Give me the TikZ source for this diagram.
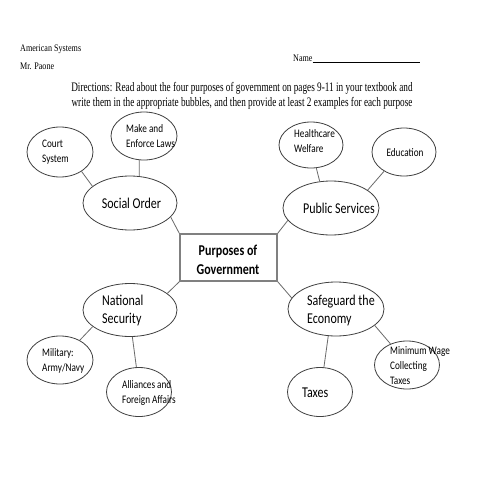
\documentclass[tikz,border=0pt]{standalone}
\usepackage{fontspec}
\setmainfont{Carlito}
\newfontfamily\bubfont[FakeStretch=0.8]{Carlito}
\newfontfamily\hdrA[FakeStretch=0.81]{Liberation Serif}
\newfontfamily\hdrB[FakeStretch=0.71]{Liberation Serif}
\usetikzlibrary{shapes.geometric}
\definecolor{lc}{HTML}{404040}
\definecolor{cc}{HTML}{6A6A6A}
\definecolor{bc}{HTML}{808080}
\begin{document}
\begin{tikzpicture}[x=1pt,y=-1pt,
  bub/.style={draw=lc, line width=0.8pt, ellipse, inner sep=0pt},
  conn/.style={draw=cc, line width=0.8pt},
  small/.style={font=\bubfont\fontsize{11.5}{15}\selectfont, align=left, inner sep=0pt, text=black},
  big/.style={font=\bubfont\fontsize{15}{18}\selectfont, align=left, inner sep=0pt, text=black},
  hdr/.style={font=\hdrA\fontsize{10}{12}\selectfont, inner sep=0pt}]
\useasboundingbox[fill=white] (0,0) rectangle (480,480);

% header
\node[hdr, anchor=base west] (title) at (20,51) {American Systems};
\node[hdr, anchor=base west] (teacher) at (20,69.3) {Mr. Paone};
\node[hdr, anchor=base west] (name) at (293,61.7) {Name\rule[-1pt]{107pt}{0.5pt}};
\node[font=\hdrB\fontsize{13}{15}\selectfont, align=center, inner sep=0pt, anchor=base] (dir) at (242,106)
  {Directions: Read about the four purposes of government on pages 9-11 in your textbook and\\
   write them in the appropriate bubbles, and then provide at least 2 examples for each purpose};

% center box
\node[draw=bc, line width=1.5pt, minimum width=97pt, minimum height=47pt, inner sep=0pt] (box) at (228.5,257.5) {};
\node[font=\bubfont\bfseries\fontsize{15}{18.5}\selectfont, align=center, inner sep=0pt] (boxt) at (228,260) {Purposes of\\Government};

% bubbles
\node[bub, minimum width=66pt, minimum height=50pt] (court) at (60,152) {};
\node[bub, minimum width=66pt, minimum height=48pt] (make) at (144,136) {};
\node[bub, minimum width=94pt, minimum height=54pt] (social) at (130,203) {};
\node[bub, minimum width=64pt, minimum height=46pt] (health) at (311,145) {};
\node[bub, minimum width=64pt, minimum height=48pt] (edu) at (404,152) {};
\node[bub, minimum width=96pt, minimum height=54pt] (public) at (331,208) {};
\node[bub, minimum width=94pt, minimum height=53pt] (natsec) at (130,310) {};
\node[bub, minimum width=66pt, minimum height=48pt] (military) at (60,360) {};
\node[bub, minimum width=65pt, minimum height=49pt] (alliance) at (139,392) {};
\node[bub, minimum width=96pt, minimum height=54pt] (safe) at (336,309) {};
\node[bub, minimum width=65pt, minimum height=48pt] (minw) at (407,365) {};
\node[bub, minimum width=65pt, minimum height=49pt] (taxes) at (320,392) {};

% texts
\node[small, anchor=west] (courtt) at (42,152.5) {Court\\System};
\node[small, anchor=west] (maket) at (126,136) {Make and\\Enforce Laws};
\node[big] (socialt) at (131.5,203.5) {Social Order};
\node[small, anchor=west] (healtht) at (294,141.5) {Healthcare\\Welfare};
\node[small] (edut) at (405,152.5) {Education};
\node[big] (publict) at (339,208.5) {Public Services};
\node[big, anchor=west] (natsect) at (102,310.5) {National\\Security};
\node[small, anchor=west] (militaryt) at (42,360.5) {Military:\\Army/Navy};
\node[small, anchor=west] (alliancet) at (122,392.5) {Alliances and\\Foreign Affairs};
\node[big, anchor=west] (safet) at (307,310.5) {Safeguard the\\Economy};
\node[small, anchor=west] (minwt) at (390,366) {Minimum Wage\\Collecting\\Taxes};
\node[big, anchor=west] (taxest) at (302,392.5) {Taxes};

% connectors
\draw[conn] (court.-42) -- (social.156.6);
\draw[conn] (make.-101.8) -- (social.71.6);
\draw[conn] (social.-19.7) -- (box.north west);
\draw[conn] (health.-77) -- (public.113);
\draw[conn] (edu.-136) -- (public.26);
\draw[conn] (public.-164.7) -- (box.north east);
\draw[conn] (box.south west) -- (natsec.24);
\draw[conn] (natsec.-156.6) -- (military.45);
\draw[conn] (natsec.-85.6) -- (alliance.96.8);
\draw[conn] (box.south east) -- (safe.166);
\draw[conn] (safe.-23) -- (minw.128.7);
\draw[conn] (safe.-106.5) -- (taxes.81);
\end{tikzpicture}
\end{document}
